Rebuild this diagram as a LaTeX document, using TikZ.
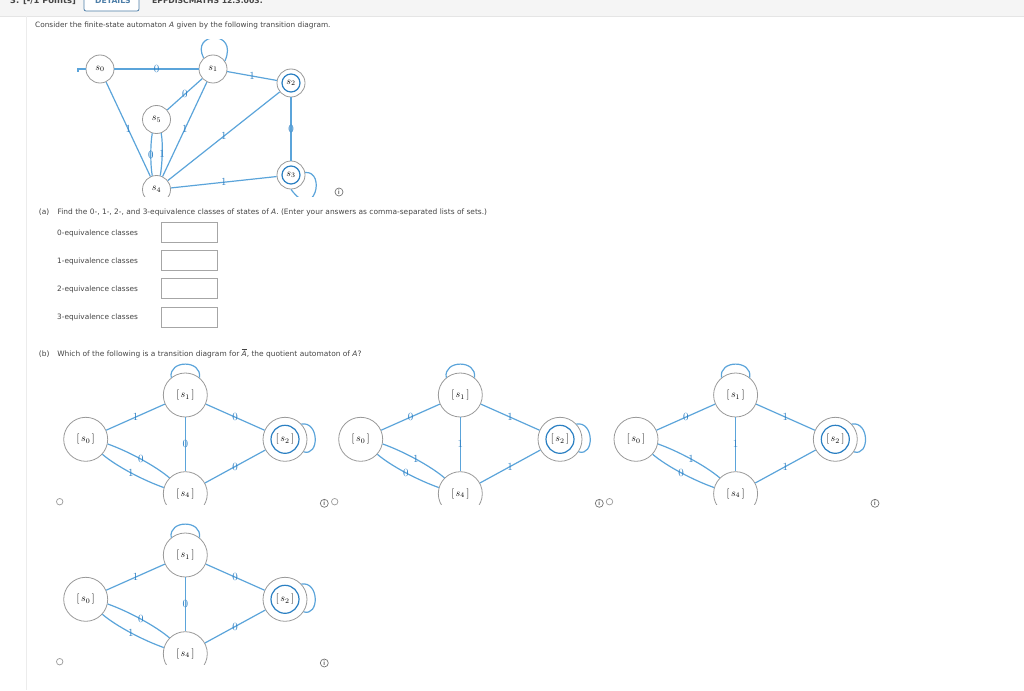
\documentclass[tikz,border=0pt]{standalone}
\usepackage{amsmath}
\usepackage{fontspec}
\setmainfont{DejaVu Sans}
\usepackage{tikz}
\usetikzlibrary{positioning}
\definecolor{edgeblue}{HTML}{5BA4DA}
\definecolor{labblue}{HTML}{2E80C4}
\definecolor{ringblue}{HTML}{2A7FC2}
\definecolor{pagetext}{HTML}{444444}
\definecolor{detailblue}{HTML}{4D7EA8}
\tikzset{
	smallstate/.style={circle, draw=gray!80, line width=0.8pt, minimum size=28pt, inner sep=0pt, font=\fontsize{10}{11}\selectfont},
	smallring/.style={circle, draw=ringblue, line width=1.2pt, minimum size=18pt, inner sep=0pt, font=\fontsize{10}{11}\selectfont},
	bigstate/.style={circle, draw=gray!80, line width=0.8pt, minimum size=44pt, inner sep=0pt, font=\fontsize{10}{11}\selectfont},
	bigring/.style={circle, draw=ringblue, line width=1.2pt, minimum size=28pt, inner sep=0pt, font=\fontsize{10}{11}\selectfont},
	edge/.style={edgeblue, line width=1.2pt},
	lab/.style={labblue, inner sep=0pt, font=\fontsize{11}{12}\selectfont},
	pagetxt/.style={anchor=base west, pagetext, inner sep=0pt, font=\fontsize{7.35}{9}\selectfont},
	parttxt/.style={pagetxt, font=\fontsize{7.45}{9}\selectfont},
	headtxt/.style={anchor=base west, pagetext, inner sep=0pt, font=\fontsize{7.7}{9}\selectfont\bfseries},
	answerbox/.style={draw=gray!70, line width=0.8pt, minimum width=56pt, minimum height=20pt, inner sep=0pt, anchor=north west},
	radio/.style={circle, draw=gray!80, line width=0.7pt, minimum size=6.5pt, inner sep=0pt},
	info/.style={circle, draw=gray!90!black, line width=0.7pt, minimum size=8pt, inner sep=0pt, font=\fontsize{6}{6}\selectfont}
}
\begin{document}
\begin{tikzpicture}[x=1pt, y=-1pt]
	\useasboundingbox (0,0) rectangle (1024,690);
	
	% page furniture
	\fill[gray!8] (0,0) rectangle (1024,16);
	\draw[gray!20] (0,16) -- (1024,16);
	\draw[gray!15] (26,16) -- (26,690);
	\begin{scope}
		\clip (0,0) rectangle (1024,16);
		\node[headtxt, font=\fontsize{8.4}{9}\selectfont\bfseries] (points) at (10,4) {3. [-/1 Points]};
		\draw[rounded corners=2pt, draw=detailblue, line width=0.8pt, fill=white] (84,-5) rectangle (139,11);
		\node[headtxt, detailblue] (details) at (95,4) {DETAILS};
		\node[headtxt] (code) at (152,4) {EPFDISCMATHS 12.3.003.};
	\end{scope}
	
	\node[pagetxt] (intro) at (35,28) {Consider the finite-state automaton \textit{A} given by the following transition diagram.};
	
	% automaton A
	\begin{scope}
		\clip (75,40) rectangle (330,196);
		\node[smallstate] (s0) at (100,69) {$s_0$};
		\node[smallstate] (s1) at (213,69) {$s_1$};
		\node[smallstate] (s2) at (291,83) {};
		\node[smallring] (s2in) at (s2) {$s_2$};
		\node[smallstate] (s5) at (156.5,119.5) {$s_5$};
		\node[smallstate] (s4) at (156.5,189.5) {$s_4$};
		\node[smallstate] (s3) at (291,175) {};
		\node[smallring] (s3in) at (s3) {$s_3$};
		\coordinate (init) at (78,69);
		
		\draw[edge] (78,72) -- (init) -- (s0);
		\draw[edge] (s0) -- (s1) node[midway,lab] {$0$};
		\draw[edge] (s0) -- (s4) node[midway,lab] {$1$};
		\draw[edge] (s1) -- (s2) node[midway,lab] {$1$};
		\draw[edge] (s1) -- (s5) node[midway,lab] {$0$};
		\draw[edge] (s1) -- (s4) node[midway,lab] {$1$};
		\draw[edge] (s2) -- (s4) node[midway,lab] {$1$};
		\draw[edge] (s2) -- (s3) node[midway,lab] {$0$};
		\draw[edge] (s4) -- (s3) node[midway,lab] {$1$};
		\draw[edge] (s5.253) .. controls +(-2,10) and +(-2,-10) .. (s4.107) node[midway,lab] {$0$};
		\draw[edge] (s5.289) .. controls +(2,10) and +(2,-10) .. (s4.75) node[midway,lab] {$1$};
		\draw[edge] (s1.130) .. controls +(-14,-26) and +(14,-32) .. (s1.34);
		\draw[edge] (s3.10) .. controls +(21,-2) and +(24,33) .. (s3.270);
	\end{scope}
	\node[info] (infoA) at (339,192) {i};
	
	% part (a)
	\node[parttxt] (parta) at (38.7,214) {(a)\hspace{6pt} Find the 0-, 1-, 2-, and 3-equivalence classes of states of \textit{A}. (Enter your answers as comma-separated lists of sets.)};
	\node[pagetxt] (eq0) at (57,235) {0-equivalence classes};
	\node[pagetxt] (eq1) at (57,263) {1-equivalence classes};
	\node[pagetxt] (eq2) at (57,291.5) {2-equivalence classes};
	\node[pagetxt] (eq3) at (57,319.5) {3-equivalence classes};
	\node[answerbox] (box0) at (160.5,221.5) {};
	\node[answerbox] (box1) at (160.5,250) {};
	\node[answerbox] (box2) at (160.5,278.3) {};
	\node[answerbox] (box3) at (160.5,306.5) {};
	
	% part (b)
	\node[parttxt] (partb) at (38.7,356) {(b)\hspace{5.5pt} Which of the following is a transition diagram for $\overline{\mbox{\textit{A}}}$, the quotient automaton of \textit{A}?};
	
	% first choice
	\begin{scope}
		\clip (60,360) rectangle (330,504);
		\node[bigstate] (a0) at (85.7,439.3) {$[\,s_0\,]$};
		\node[bigstate] (a1) at (185.3,395) {$[\,s_1\,]$};
		\node[bigstate] (a2) at (285,439.3) {};
		\node[bigring] (a2in) at (a2) {$[\,s_2\,]$};
		\node[bigstate] (a4) at (185.3,493.7) {$[\,s_4\,]$};
		
		\draw[edge] (a0) -- (a1) node[midway,lab] {$1$};
		\draw[edge] (a1) -- (a2) node[midway,lab] {$0$};
		\draw[edge] (a1) -- (a4) node[midway,lab] {$0$};
		\draw[edge] (a4) -- (a2) node[midway,lab] {$0$};
		\draw[edge] (a0.-12) .. controls +(20,7) and +(-14,-12) .. (a4.135) node[midway,lab] {$0$};
		\draw[edge] (a0.-42) .. controls +(14,12) and +(-20,-7) .. (a4.164) node[midway,lab] {$1$};
		\draw[edge] (a1.129) .. controls +(-3,-18) and +(3,-18) .. (a1.51);
		\draw[edge] (a2.43) .. controls +(18,-3) and +(16,5) .. (a2.-34);
	\end{scope}
	\node[radio] (ra) at (59.7,501.7) {};
	\node[info] (infoa) at (324.3,503.3) {i};
	
	% second choice
	\begin{scope}
		\clip (335,360) rectangle (605,504);
		\node[bigstate] (b0) at (360.7,439.3) {$[\,s_0\,]$};
		\node[bigstate] (b1) at (460.3,395) {$[\,s_1\,]$};
		\node[bigstate] (b2) at (560,439.3) {};
		\node[bigring] (b2in) at (b2) {$[\,s_2\,]$};
		\node[bigstate] (b4) at (460.3,493.7) {$[\,s_4\,]$};
		
		\draw[edge] (b0) -- (b1) node[midway,lab] {$0$};
		\draw[edge] (b1) -- (b2) node[midway,lab] {$1$};
		\draw[edge] (b1) -- (b4) node[midway,lab] {$1$};
		\draw[edge] (b4) -- (b2) node[midway,lab] {$1$};
		\draw[edge] (b0.-12) .. controls +(20,7) and +(-14,-12) .. (b4.135) node[midway,lab] {$1$};
		\draw[edge] (b0.-42) .. controls +(14,12) and +(-20,-7) .. (b4.164) node[midway,lab] {$0$};
		\draw[edge] (b1.129) .. controls +(-3,-18) and +(3,-18) .. (b1.51);
		\draw[edge] (b2.43) .. controls +(18,-3) and +(16,5) .. (b2.-34);
	\end{scope}
	\node[radio] (rb) at (334.7,501.7) {};
	\node[info] (infob) at (599.3,503.3) {i};
	
	% third choice
	\begin{scope}
		\clip (610,360) rectangle (880,504);
		\node[bigstate] (c0) at (636,439.3) {$[\,s_0\,]$};
		\node[bigstate] (c1) at (735.6,395) {$[\,s_1\,]$};
		\node[bigstate] (c2) at (835.3,439.3) {};
		\node[bigring] (c2in) at (c2) {$[\,s_2\,]$};
		\node[bigstate] (c4) at (735.6,493.7) {$[\,s_4\,]$};
		
		\draw[edge] (c0) -- (c1) node[midway,lab] {$0$};
		\draw[edge] (c1) -- (c2) node[midway,lab] {$1$};
		\draw[edge] (c1) -- (c4) node[midway,lab] {$1$};
		\draw[edge] (c4) -- (c2) node[midway,lab] {$1$};
		\draw[edge] (c0.-12) .. controls +(20,7) and +(-14,-12) .. (c4.135) node[midway,lab] {$1$};
		\draw[edge] (c0.-42) .. controls +(14,12) and +(-20,-7) .. (c4.164) node[midway,lab] {$0$};
		\draw[edge] (c1.129) .. controls +(-3,-18) and +(3,-18) .. (c1.51);
		\draw[edge] (c2.43) .. controls +(18,-3) and +(16,5) .. (c2.-34);
	\end{scope}
	\node[radio] (rc) at (609.5,501.7) {};
	\node[info] (infoc) at (875,503.3) {i};
	
	% fourth choice
	\begin{scope}
		\clip (60,520) rectangle (330,664);
		\node[bigstate] (d0) at (85.7,599.3) {$[\,s_0\,]$};
		\node[bigstate] (d1) at (185.3,555) {$[\,s_1\,]$};
		\node[bigstate] (d2) at (285,599.3) {};
		\node[bigring] (d2in) at (d2) {$[\,s_2\,]$};
		\node[bigstate] (d4) at (185.3,653.7) {$[\,s_4\,]$};
		
		\draw[edge] (d0) -- (d1) node[midway,lab] {$1$};
		\draw[edge] (d1) -- (d2) node[midway,lab] {$0$};
		\draw[edge] (d1) -- (d4) node[midway,lab] {$0$};
		\draw[edge] (d4) -- (d2) node[midway,lab] {$0$};
		\draw[edge] (d0.-12) .. controls +(20,7) and +(-14,-12) .. (d4.135) node[midway,lab] {$0$};
		\draw[edge] (d0.-42) .. controls +(14,12) and +(-20,-7) .. (d4.164) node[midway,lab] {$1$};
		\draw[edge] (d1.129) .. controls +(-3,-18) and +(3,-18) .. (d1.51);
		\draw[edge] (d2.43) .. controls +(18,-3) and +(16,5) .. (d2.-34);
	\end{scope}
	\node[radio] (rd) at (59.7,661.7) {};
	\node[info] (infod) at (324.3,663) {i};
\end{tikzpicture}
\end{document}
